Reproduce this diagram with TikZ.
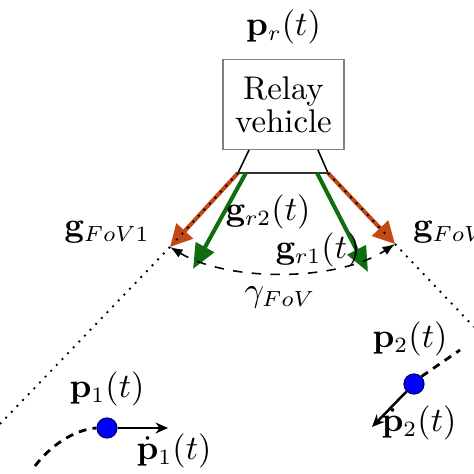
\documentclass[tikz,border=0pt]{standalone}
\usepackage{amsmath}
\usetikzlibrary{arrows.meta,positioning}
\definecolor{fovorange}{RGB}{196,72,22}
\definecolor{gazegreen}{RGB}{16,110,16}
\tikzset{
vehicle/.style={
  draw=gray, rectangle, align=center, inner sep=2pt,
  minimum width=38.7pt, minimum height=29pt
  },
target/.style={
  circle, fill=blue, draw=blue!45!black, minimum size=6.4pt, inner sep=0pt
  },
fovarrow/.style={
  draw=fovorange, line width=1.3pt, -{Triangle[length=7pt,width=7pt]}
  },
fovdots/.style={
  draw=black, line width=0.6pt, dotted, shorten >=3pt
  },
gazearrow/.style={
  draw=gazegreen, line width=1.3pt, -{Triangle[length=8pt,width=6.5pt]}
  },
velarrow/.style={
  draw=black, line width=0.8pt, -{Stealth[length=4pt,width=3.5pt]}
  },
track/.style={
  draw=black, line width=0.9pt, dash pattern=on 2.5pt off 2pt
  }
}

\begin{document}
\begin{tikzpicture}[x=0.32pt,y=-0.32pt,every node/.style={font=\fontsize{10.5}{12.5}\selectfont}]
\useasboundingbox (0,0) rectangle (474,474);
\clip (0,0) rectangle (474,474);

% relay vehicle

\node[vehicle] (relay) at (283.5,104.5) {Relay\\[-2pt]vehicle};
\node[above=1pt of relay] (pr) {$\mathbf{p}_r(t)$};

\coordinate (tl) at (249,150);
\coordinate (tr) at (318,150);
\coordinate (bl) at (238,173);
\coordinate (br) at (328,173);
\draw[line width=0.5pt] (tl) -- (bl);
\draw[line width=0.5pt] (tr) -- (br);
\draw[line width=0.7pt, black!80] (bl) -- (br);

% field of view

\coordinate (fov1) at (170,247);
\coordinate (fov2) at (395,244);
\coordinate (gr2) at (193,269);
\coordinate (gr1) at (368,272);

\draw[fovarrow] (bl) -- (fov1);
\draw[fovdots] (bl) -- (fov1);
\draw[fovarrow] (br) -- (fov2);
\draw[fovdots] (br) -- (fov2);

\draw[gazearrow] ([xshift=2.5pt]bl) -- (gr2);
\draw[gazearrow] ([xshift=-3.5pt]br) -- (gr1);

\draw[black, line width=0.5pt, dashed, {Latex[length=4pt]}-{Latex[length=4pt]}]
  (fov1) .. controls (228,282) and (337,282) .. (fov2);

\draw[black, line width=0.6pt, dotted] (fov1) -- (0,424);
\draw[black, line width=0.6pt, dotted] (fov2) -- (474,327);

\node (lfov1) at (107,232) {$\mathbf{g}_{FoV1}$};
\node[anchor=west] (lfov2) at (402,232) {$\mathbf{g}_{FoV2}$};
\node (lgr2) at (268,212) {$\mathbf{g}_{r2}(t)$};
\node (lgr1) at (318,250) {$\mathbf{g}_{r1}(t)$};
\node (lgamma) at (280,297) {$\gamma_{FoV}$};

% target 1

\node[target] (p1) at (107,428) {};
\coordinate (p1tail) at (35,466);
\coordinate (p1head) at (168,428);
\draw[track] (p1tail) .. controls (55,440) and (80,429) .. (p1.west);
\draw[velarrow] (p1.east) -- (p1head);
\node (lp1) at (107,389) {$\mathbf{p}_1(t)$};
\node (lv1) at (174,451) {$\dot{\mathbf{p}}_1(t)$};

% target 2

\node[target] (p2) at (414,384) {};
\coordinate (p2tail) at (460,350);
\coordinate (p2head) at (372,427);
\draw[track] (p2.north east) -- (p2tail);
\draw[velarrow] (p2.south west) -- (p2head);
\node (lp2) at (410,339) {$\mathbf{p}_2(t)$};
\node (lv2) at (419,423) {$\dot{\mathbf{p}}_2(t)$};

\end{tikzpicture}
\end{document}
